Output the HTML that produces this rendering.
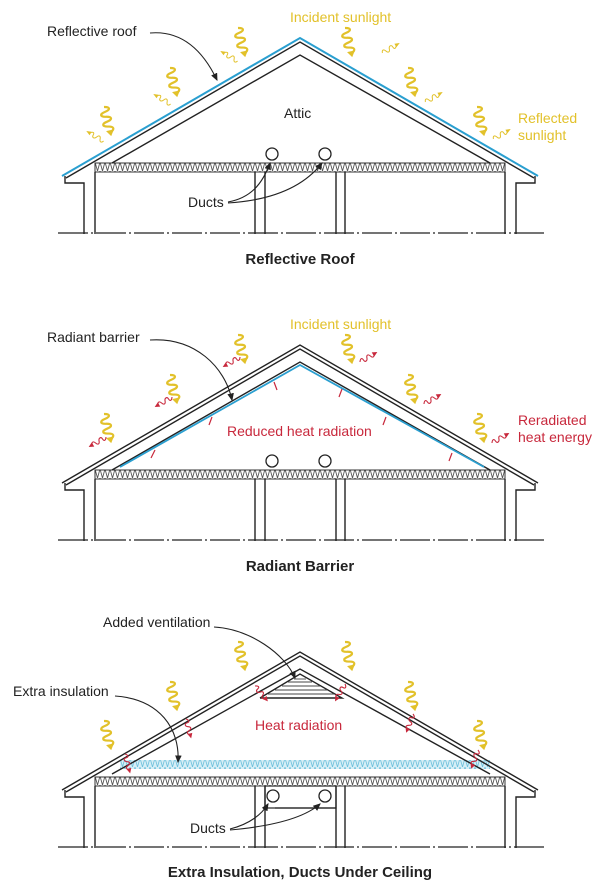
<!DOCTYPE html>
<html><head><meta charset="utf-8"><style>
html,body{margin:0;padding:0;background:#fff}
svg{display:block}
text{font-family:"Liberation Sans",sans-serif}
.lb{font-size:14px;fill:#222}
.yl{font-size:14px;fill:#e2c12a}
.rd{font-size:14px;fill:#c8283c}
.tt{font-size:15px;font-weight:bold;fill:#222}
</style></head><body>
<svg width="600" height="884" viewBox="0 0 600 884" xmlns="http://www.w3.org/2000/svg">
<defs>
<pattern id="hat" width="5" height="9" patternUnits="userSpaceOnUse">
<path d="M0 0 L2.5 9 L5 0" fill="none" stroke="#555" stroke-width="0.9"/>
</pattern>
<pattern id="hatb" width="5" height="9" patternUnits="userSpaceOnUse">
<rect width="5" height="9" fill="#d6eef6"/>
<path d="M0 0 L2.5 9 L5 0" fill="none" stroke="#6cc0dc" stroke-width="0.8"/>
</pattern>
<marker id="ah" markerWidth="8" markerHeight="8" refX="6" refY="3" orient="auto"><path d="M0 0 L7 3 L0 6z" fill="#222"/></marker>
<g id="sq">
<path d="M0 0 c6 1 6 4 0 5 c-6 1 -6 4 0 5 c6 1 6 4 0 5 c-6 1 -6 4 0 5 c6 1 6 4 1 6" fill="none" stroke="#e2c12a" stroke-width="2.2"/>
<path d="M-3 24 L5 24 L1 30z" fill="#e2c12a"/>
</g>
<g id="rf">
<path d="M2 0 c2 -3 4 -3 4 0 c0 3 3 3 4 0 c1 -3 3 -3 4 0 c1 3 3 3 4 0" fill="none" stroke="#e2c12a" stroke-width="1"/>
<path d="M-2 0 L3 -2 L3 2z" fill="#e2c12a"/>
</g>
<g id="rr">
<path d="M0 0 c2 -3 4 -3 4 0 c0 3 3 3 4 0 c1 -3 3 -3 4 0 c1 3 3 3 4 0" fill="none" stroke="#c8283c" stroke-width="1.1"/>
<path d="M20 0 L15 -2.5 L15 2.5z" fill="#c8283c"/>
</g>
<g id="base" fill="none" stroke="#222" stroke-width="1.4">
<rect x="95" y="163" width="410" height="9" fill="url(#hat)" stroke="#333" stroke-width="1"/>
<polyline points="65,176 65,183 84,183 84,234"/>
<polyline points="535,176 535,183 516,183 516,234"/>
<line x1="95" y1="172" x2="95" y2="234"/>
<line x1="505" y1="172" x2="505" y2="234"/>
<line x1="255" y1="172" x2="255" y2="234"/>
<line x1="265" y1="172" x2="265" y2="234"/>
<line x1="336" y1="172" x2="336" y2="234"/>
<line x1="345" y1="172" x2="345" y2="234"/>
<line x1="58" y1="233" x2="545" y2="233" stroke-dasharray="30 3 2 3" stroke-width="1.2"/>
</g>
</defs>

<!-- PANEL 1 -->
<use href="#base"/>
<g fill="none" stroke-width="1.4">
<polyline points="66,178 300,42 534,178" stroke="#222"/>
<polyline points="62,176 300,38 538,176" stroke="#2a9fd0" stroke-width="2"/>
<polyline points="112,163 300,55 490,163" stroke="#222"/>
</g>
<circle cx="272" cy="154" r="6" fill="#fff" stroke="#222" stroke-width="1.3"/>
<circle cx="325" cy="154" r="6" fill="#fff" stroke="#222" stroke-width="1.3"/>
<path d="M150 33 C185 30 205 55 217 80" fill="none" stroke="#222" stroke-width="1.1" marker-end="url(#ah)"/>
<path d="M228 202 C250 198 262 185 270 163" fill="none" stroke="#222" stroke-width="1.1" marker-end="url(#ah)"/>
<path d="M228 203 C275 200 305 185 322 163" fill="none" stroke="#222" stroke-width="1.1" marker-end="url(#ah)"/>
<text x="47" y="36" class="lb">Reflective roof</text>
<text x="290" y="22" class="yl">Incident sunlight</text>
<text x="284" y="118" class="lb">Attic</text>
<text x="518" y="123" class="yl">Reflected</text>
<text x="518" y="140" class="yl">sunlight</text>
<text x="188" y="207" class="lb">Ducts</text>
<text x="300" y="264" class="tt" text-anchor="middle">Reflective Roof</text>
<use href="#sq" transform="translate(104,107) rotate(-12)"/>
<use href="#rf" transform="translate(88,132) rotate(30)"/>
<use href="#sq" transform="translate(170,68) rotate(-12)"/>
<use href="#rf" transform="translate(155,95) rotate(30)"/>
<use href="#sq" transform="translate(238,28) rotate(-12)"/>
<use href="#rf" transform="translate(222,52) rotate(30)"/>
<use href="#sq" transform="translate(345,28) rotate(-12)"/>
<use href="#rf" transform="translate(398,44) rotate(150)"/>
<use href="#sq" transform="translate(408,68) rotate(-12)"/>
<use href="#rf" transform="translate(441,93) rotate(150)"/>
<use href="#sq" transform="translate(477,107) rotate(-12)"/>
<use href="#rf" transform="translate(509,130) rotate(150)"/>

<!-- PANEL 2 -->
<g transform="translate(0,307)">
<use href="#base"/>
<g fill="none" stroke-width="1.4">
<polyline points="66,178 300,42 534,178" stroke="#222"/>
<polyline points="62,176 300,38 538,176" stroke="#222"/>
<polyline points="112,163 300,55 490,163" stroke="#222"/>
<polyline points="120,160 300,58 484,160" stroke="#2a9fd0" stroke-width="1.8"/>
</g>
<circle cx="272" cy="154" r="6" fill="#fff" stroke="#222" stroke-width="1.3"/>
<circle cx="325" cy="154" r="6" fill="#fff" stroke="#222" stroke-width="1.3"/>
<path d="M150 33 C195 30 225 60 232 93" fill="none" stroke="#222" stroke-width="1.1" marker-end="url(#ah)"/>
<use href="#sq" transform="translate(104,107) rotate(-12)"/>
<use href="#rr" transform="translate(106,130) rotate(150)"/>
<use href="#sq" transform="translate(170,68) rotate(-12)"/>
<use href="#rr" transform="translate(172,90) rotate(150)"/>
<use href="#sq" transform="translate(238,28) rotate(-12)"/>
<use href="#rr" transform="translate(240,50) rotate(150)"/>
<use href="#sq" transform="translate(345,28) rotate(-12)"/>
<use href="#rr" transform="translate(360,55) rotate(-30)"/>
<use href="#sq" transform="translate(408,68) rotate(-12)"/>
<use href="#rr" transform="translate(424,97) rotate(-30)"/>
<use href="#sq" transform="translate(477,107) rotate(-12)"/>
<use href="#rr" transform="translate(492,136) rotate(-30)"/>
<g stroke="#c8283c" stroke-width="1.2">
<line x1="155" y1="143" x2="151" y2="151"/>
<line x1="212" y1="110" x2="209" y2="118"/>
<line x1="274" y1="75" x2="277" y2="83"/>
<line x1="342" y1="82" x2="339" y2="90"/>
<line x1="386" y1="110" x2="383" y2="118"/>
<line x1="452" y1="146" x2="449" y2="154"/>
</g>
<text x="47" y="35" class="lb">Radiant barrier</text>
<text x="290" y="22" class="yl">Incident sunlight</text>
<text x="227" y="129" class="rd">Reduced heat radiation</text>
<text x="518" y="118" class="rd">Reradiated</text>
<text x="518" y="135" class="rd">heat energy</text>
<text x="300" y="264" class="tt" text-anchor="middle">Radiant Barrier</text>
</g>

<!-- PANEL 3 -->
<g transform="translate(0,614)">
<rect x="120" y="146" width="370" height="9" fill="url(#hatb)" stroke="none"/>
<use href="#base"/>
<g fill="none" stroke-width="1.4" stroke="#222">
<polyline points="66,178 300,42 534,178"/>
<polyline points="62,176 300,38 538,176"/>
<polyline points="112,160 300,55 490,160"/>
<polyline points="260,84 300,60 342,84 260,84"/>
</g>
<g stroke="#444" stroke-width="0.9">
<line x1="294" y1="65" x2="306" y2="65"/>
<line x1="288" y1="68" x2="312" y2="68"/>
<line x1="282" y1="72" x2="320" y2="72"/>
<line x1="275" y1="76" x2="327" y2="76"/>
<line x1="268" y1="80" x2="334" y2="80"/>
</g>
<g fill="none" stroke="#222" stroke-width="1.2">
<rect x="265" y="172" width="71" height="22"/>
<line x1="275" y1="194" x2="336" y2="194"/>
</g>
<circle cx="273" cy="182" r="6" fill="#fff" stroke="#222" stroke-width="1.3"/>
<circle cx="325" cy="182" r="6" fill="#fff" stroke="#222" stroke-width="1.3"/>
<path d="M214 13 C250 15 285 40 295 64" fill="none" stroke="#222" stroke-width="1.1" marker-end="url(#ah)"/>
<path d="M115 82 C160 85 180 115 178 148" fill="none" stroke="#222" stroke-width="1.1" marker-end="url(#ah)"/>
<path d="M230 215 C250 210 262 200 268 190" fill="none" stroke="#222" stroke-width="1.1" marker-end="url(#ah)"/>
<path d="M230 216 C275 212 305 203 320 190" fill="none" stroke="#222" stroke-width="1.1" marker-end="url(#ah)"/>
<use href="#sq" transform="translate(104,107) rotate(-12)"/>
<use href="#sq" transform="translate(170,68) rotate(-12)"/>
<use href="#sq" transform="translate(238,28) rotate(-12)"/>
<use href="#sq" transform="translate(345,28) rotate(-12)"/>
<use href="#sq" transform="translate(408,68) rotate(-12)"/>
<use href="#sq" transform="translate(477,107) rotate(-12)"/>
<use href="#rr" transform="translate(125,140) rotate(75)"/>
<use href="#rr" transform="translate(186,105) rotate(75)"/>
<use href="#rr" transform="translate(255,72) rotate(50)"/>
<use href="#rr" transform="translate(345,70) rotate(120)"/>
<use href="#rr" transform="translate(413,100) rotate(110)"/>
<use href="#rr" transform="translate(478,136) rotate(110)"/>
<text x="103" y="13" class="lb">Added ventilation</text>
<text x="13" y="82" class="lb">Extra insulation</text>
<text x="255" y="116" class="rd">Heat radiation</text>
<text x="190" y="219" class="lb">Ducts</text>
<text x="300" y="263" class="tt" text-anchor="middle">Extra Insulation, Ducts Under Ceiling</text>
</g>
</svg>
</body></html>
